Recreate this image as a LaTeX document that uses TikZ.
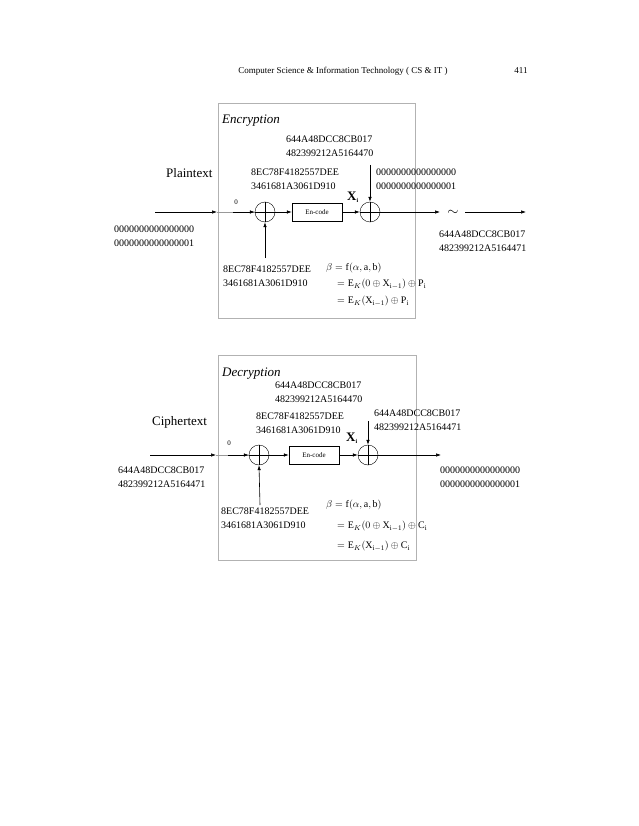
\documentclass[tikz,border=0pt]{standalone}
\usepackage{fontspec}
\setmainfont{Liberation Serif}
\usetikzlibrary{arrows.meta}
\begin{document}
\begin{tikzpicture}[x=1pt,y=-1pt,
  lbl/.style={font=\fontsize{10}{12}\selectfont,align=left,inner sep=0},
  big/.style={font=\fontsize{13}{15}\selectfont,inner sep=0},
  frame/.style={draw=black!30,line width=0.6pt},
  xo/.style={draw,circle,minimum size=20pt,inner sep=0,path picture={\draw (path picture bounding box.north)--(path picture bounding box.south) (path picture bounding box.west)--(path picture bounding box.east);}},
  enc/.style={draw,minimum width=50pt,minimum height=18pt,inner sep=0,font=\fontsize{7}{8}\selectfont},
  arr/.style={-{Latex[length=5pt,width=3.5pt]},line width=0.6pt}]
\useasboundingbox (0,0) rectangle (638,826);
\node[font=\fontsize{9}{11}\selectfont] (hdr) at (343,71) {Computer Science \& Information Technology ( CS \& IT )};
\node[font=\fontsize{9}{11}\selectfont] (pg) at (521,71) {411};
% Encryption
\node[frame,minimum width=197pt,minimum height=215pt,anchor=north west] (B1) at (218,103) {};
\node[big,font=\itshape\fontsize{13}{15}\selectfont,anchor=west] (t1) at (222,121) {Encryption};
\node[lbl,anchor=west] (k1) at (286,146) {644A48DCC8CB017\\[2pt]482399212A5164470};
\node[big,anchor=west] (pt) at (166,173) {Plaintext};
\node[lbl,anchor=west] (iv1) at (251,179) {8EC78F4182557DEE\\[2pt]3461681A3061D910};
\node[lbl,anchor=west] (c1) at (376,179) {0000000000000000\\[2pt]0000000000000001};
\coordinate (in1) at (155,212);
\coordinate (b1l) at (217,212);
\node[font=\fontsize{7}{8}\selectfont] (z1) at (236,202) {0};
\node[xo] (x11) at (265,212) {};
\node[enc] (e1) at (317,212) {En-code};
\node[xo] (x12) at (370,212) {};
\node[font=\bfseries\fontsize{13}{15}\selectfont] (X1) at (353,197) {X\textsubscript{\fontsize{6}{6}\selectfont i}};
\coordinate (v1) at (370,165);
\coordinate (o1) at (440,212);
\node[font=\fontsize{14}{14}\selectfont] (tl) at (453,213) {$\sim$};
\coordinate (o1a) at (465,212);
\coordinate (o1b) at (526,212);
\node[lbl,anchor=west] (p1) at (114,236) {0000000000000000\\[2pt]0000000000000001};
\node[lbl,anchor=west] (r1) at (439,241) {644A48DCC8CB017\\[2pt]482399212A5164471};
\coordinate (kb1) at (265,258);
\node[lbl,anchor=west] (kk1) at (223,276) {8EC78F4182557DEE\\[2pt]3461681A3061D910};
\node[lbl,anchor=west] (f1) at (326,268) {$\beta=\mathrm{f}(\alpha,\mathrm{a},\mathrm{b})$};
\node[lbl,anchor=west] (f2) at (337,284) {$=\mathrm{E}_K(0\oplus \mathrm{X}_{\mathrm{i-1}})\oplus \mathrm{P}_{\mathrm{i}}$};
\node[lbl,anchor=west] (f3) at (337,301) {$=\mathrm{E}_K(\mathrm{X}_{\mathrm{i-1}})\oplus \mathrm{P}_{\mathrm{i}}$};
\draw[arr] (in1) -- (b1l);
\draw[black!40,line width=0.3pt] (b1l) -- (x11.west);
\draw[arr] (233,212) -- (x11.west);
\draw[arr] (x11) -- (e1);
\draw[arr] (e1) -- (x12);
\draw[arr] (v1) -- (x12.north);
\draw[arr] (x12.east) -- (o1);
\draw[arr] (o1a) -- (o1b);
\draw[arr] (kb1) -- (x11.south);
% Decryption
\node[frame,minimum width=198pt,minimum height=205pt,anchor=north west] (B2) at (218,355) {};
\node[big,font=\itshape\fontsize{13}{15}\selectfont,anchor=west] (t2) at (222,374) {Decryption};
\node[lbl,anchor=west] (k2) at (275,392) {644A48DCC8CB017\\[2pt]482399212A5164470};
\node[big,anchor=west] (ct) at (152,422) {Ciphertext};
\node[lbl,anchor=west] (iv2) at (256,423) {8EC78F4182557DEE\\[2pt]3461681A3061D910};
\node[lbl,anchor=west] (c2) at (374,420) {644A48DCC8CB017\\[2pt]482399212A5164471};
\coordinate (in2) at (150,455);
\coordinate (b2l) at (216,455);
\node[font=\fontsize{7}{8}\selectfont] (z2) at (229,443) {0};
\node[xo] (x21) at (259,455) {};
\node[enc] (e2) at (314,455) {En-code};
\node[xo] (x22) at (368,455) {};
\node[font=\bfseries\fontsize{13}{15}\selectfont] (X2) at (352,438) {X\textsubscript{\fontsize{6}{6}\selectfont i}};
\coordinate (v2) at (368,421);
\coordinate (o2) at (441,455);
\node[lbl,anchor=west] (p2) at (118,477) {644A48DCC8CB017\\[2pt]482399212A5164471};
\node[lbl,anchor=west] (r2) at (440,477) {0000000000000000\\[2pt]0000000000000001};
\coordinate (kb2) at (260,505);
\node[lbl,anchor=west] (kk2) at (221,518) {8EC78F4182557DEE\\[2pt]3461681A3061D910};
\node[lbl,anchor=west] (g1) at (326,505) {$\beta=\mathrm{f}(\alpha,\mathrm{a},\mathrm{b})$};
\node[lbl,anchor=west] (g2) at (337,526) {$=\mathrm{E}_K(0\oplus \mathrm{X}_{\mathrm{i-1}})\oplus \mathrm{C}_{\mathrm{i}}$};
\node[lbl,anchor=west] (g3) at (337,546) {$=\mathrm{E}_K(\mathrm{X}_{\mathrm{i-1}})\oplus \mathrm{C}_{\mathrm{i}}$};
\draw[arr] (in2) -- (b2l);
\draw[black!40,line width=0.3pt] (b2l) -- (x21.west);
\draw[arr] (228,455) -- (x21.west);
\draw[arr] (x21) -- (e2);
\draw[arr] (e2) -- (x22);
\draw[arr] (v2) -- (x22.north);
\draw[arr] (x22.east) -- (o2);
\draw[arr] (kb2) -- (x21.south);
\end{tikzpicture}
\end{document}
